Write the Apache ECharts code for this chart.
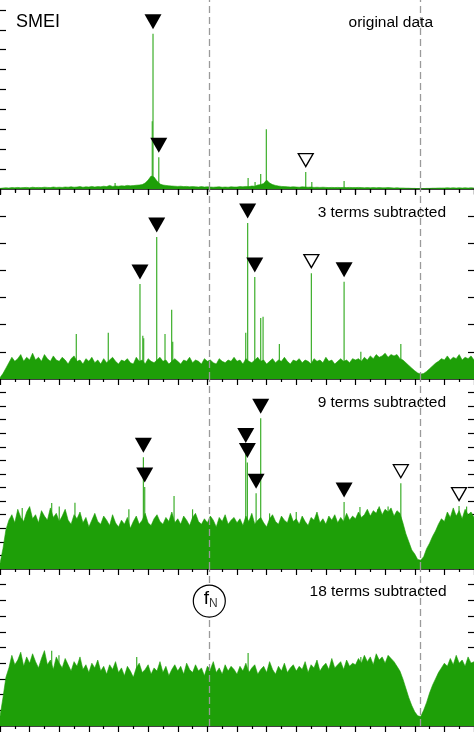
<!DOCTYPE html>
<html>
<head>
<meta charset="utf-8">
<script src="https://cdn.jsdelivr.net/npm/echarts@6/dist/echarts.min.js"></script>
<style>
html,body{margin:0;padding:0;background:#fff;}
#chart{width:474px;height:732px;}
</style>
</head>
<body>
<div id="chart"></div>
<script>
// ---------------- data ----------------
const X_STEP = 0.2;               // spacing of the hand-read spectrum samples (frequency units)
const freqMin = 0, freqMax = 32;  // frequency axis range
const fN = 14.13, fN2 = 28.34;    // Nyquist frequency and its double (dashed lines)
const panelTitles = ["original data", "3 terms subtracted", "9 terms subtracted", "18 terms subtracted"];
const panelYMax = [95, 70, 140, 100];

// continuum (noise) level of each spectrum, one value per X_STEP
const noise1 = [0.3,0.5,0.6,0.5,0.7,0.6,0.8,0.6,0.7,0.8,0.6,0.9,0.7,0.8,0.7,0.9,0.8,0.7,1,0.8,
0.9,0.8,1,0.9,1.1,0.9,1,1.2,0.9,1.1,1,1.3,1,1.2,1.1,1.4,1.2,1.8,1.3,1.5,
1.4,1.6,1.5,1.8,1.6,1.7,1.9,2,2.2,3,4.5,6.5,6,4,2.5,2,1.8,1.6,1.5,1.4,
1.3,1.4,1.2,1.3,1.1,1.2,1.1,1,1.2,1,1.1,1,0.9,1,1.1,0.9,1,0.9,1.1,1,
1,1.2,1.1,1.3,1.2,1.5,1.4,2,2.2,2.8,4.5,3,2.2,1.8,1.5,1.3,1.2,1.1,1,1.1,
1,0.9,1.1,1,0.9,1,0.8,0.9,0.8,0.9,0.8,0.7,0.8,0.7,0.8,0.7,0.8,0.7,0.8,0.7,
0.7,0.8,0.7,0.6,0.7,0.6,0.7,0.6,0.7,0.6,0.6,0.7,0.6,0.5,0.6,0.5,0.5,0.4,0.4,0.3,
0.3,0.2,0.2,0.2,0.3,0.3,0.4,0.4,0.5,0.5,0.5,0.6,0.5,0.6,0.5,0.6,0.5,0.6,0.5,0.6,0.5];

const noise2 = [0.5,2,4,6,8,6.5,7.5,9,6.5,8,7,9.5,7,8,6.5,9,7.5,6.5,8.5,7,
6.5,8,7,5.5,7.5,8.5,6.5,7,5.5,7.5,6.5,8,6,7,5.5,7.5,6,7,8,6.5,
5.5,7,6.5,7.5,6,5.5,8,6.5,7,5.5,7.5,6.5,6,7,8,6.5,7,5.5,6.5,7.5,
6.5,5.5,7,6.5,8,6,7,6.5,5.5,7.5,6.5,7,6,5.5,7.5,6.5,6,7,6.5,8,
6.5,7,5.5,7.5,6.5,6,7,8,6.5,7,5.5,6.5,7.5,6,7,6.5,8,6.5,5.5,7,
6.5,7.5,6,7,6.5,5.5,7.5,6.5,7,6,8,6.5,7,5.5,6.5,7.5,6.5,7,6,7.5,
7,7.5,6.5,8,7,8.5,7.5,9,8,8.5,9.5,8,9,8.5,9,7.5,7,6,5,4,
3,2.2,1.8,2,2.8,3.8,4.8,5.8,6.5,7.5,7,8.5,7,8,7.5,9,7,8,7.5,8.5,7];

const noise3 = [4,15,29,36,40,34,44,38,35,42,46,37,40,34,43,39,36,45,38,41,
35,39,44,36,33,40,37,42,34,38,31,36,41,35,33,39,36,32,40,34,
31,36,33,38,30,35,39,33,36,41,34,32,37,40,35,33,38,35,42,34,
37,33,39,36,32,38,41,35,33,37,34,39,36,31,38,35,40,33,36,38,
34,37,32,39,35,41,33,36,38,34,31,37,40,35,33,39,36,34,41,35,
37,33,39,35,32,38,36,42,34,37,33,39,36,40,34,38,35,41,36,39,
37,42,38,40,44,39,43,41,46,40,44,42,45,39,43,41,34,26,20,14,
11,7,6.5,9,15,19,24,28,33,37,35,42,38,45,39,43,37,44,40,42,38];

const noise4 = [6,18,31,37,45,39,42,47,38,44,40,46,41,37,43,48,39,42,36,44,
40,37,43,39,35,41,38,44,36,39,34,40,37,42,35,38,33,39,36,41,
34,37,32,38,35,31,37,40,34,36,39,33,37,35,41,34,38,32,36,39,
35,38,33,40,36,34,39,35,37,32,38,36,41,34,37,33,39,35,38,36,
33,38,35,40,34,37,39,33,36,38,34,41,36,33,38,35,40,34,37,39,
35,38,36,41,34,39,37,42,35,38,40,36,43,37,39,41,36,42,38,40,
39,43,40,45,41,44,39,46,42,44,40,45,43,41,38,35,30,24,18,13,
9,6.5,6,10,15,21,26,30,34,37,40,38,43,39,45,40,42,38,44,40,41];

// narrow peaks (frequency, height)
const peaks1X = [7.77,10.28,10.33,10.72,16.75,17.22,17.6,17.98,20.64,21.05,23.23];
const peaks1Y = [3,34,78,16,5.5,3.5,7.5,30,8.5,3.5,4];
const peaks2X = [5.15,7.31,9.45,9.64,9.70,10.58,11.14,11.59,11.66,16.59,16.72,17.2,17.6,17.76,18.86,21.02,23.23,24.36,27.06];
const peaks2Y = [16.6,17,35,15.9,15,52.3,16.6,25.5,13.7,17,57.5,37.6,22.5,22.9,12.9,39,35.8,10,12.9];
const peaks3X = [1.5,3.49,4.0,5.06,8.7,9.68,9.77,11.75,13.0,16.59,16.7,17.29,17.6,18.2,20.0,23.23,24.3,25.5,26.2,27.06,30.99,31.5];
const peaks3Y = [45,48.6,46,48.9,44,82.3,60.4,53.8,44,89.5,78.5,55.8,111,41,42,49.4,45.7,44,46,63.2,46.4,46];
const peaks4X = [3.49,3.98,9.23,16.75,24.36];
const peaks4Y = [48,45,44,46.5,44];

// identified frequencies: filled = subtracted terms, open = other marked peaks
const filled1X = [10.33,10.72], filled1Y = [78,16];
const open1X = [20.64], open1Y = [8.5];
const filled2X = [9.45,10.58,16.72,17.2,23.23], filled2Y = [35,52.3,57.5,37.6,35.8];
const open2X = [21.02], open2Y = [39];
const filled3X = [9.68,9.77,17.6,16.59,16.7,17.29,23.23], filled3Y = [82.3,60.4,111,89.5,78.5,55.8,49.4];
const open3X = [27.06,30.99], open3Y = [63.2,46.4];
const fNLabelY = 79.6;

// ---------------- chart ----------------
const FONT = "'Liberation Sans', Arial, Helvetica, sans-serif";
const GREEN = '#1e9f08';
const SPIKE = '#3cae2a';
const gridsPx = [[0,189],[189,190],[379,190],[569,157]];

const noises = [noise1, noise2, noise3, noise4];
const peaksX = [peaks1X, peaks2X, peaks3X, peaks4X];
const peaksY = [peaks1Y, peaks2Y, peaks3Y, peaks4Y];
const filledX = [filled1X, filled2X, filled3X, []];
const filledY = [filled1Y, filled2Y, filled3Y, []];
const openX = [open1X, open2X, open3X, []];
const openY = [open1Y, open2Y, open3Y, []];

const zip = (a, b) => a.map((v, i) => [v, b[i]]);

const grid = [], xAxis = [], yAxis = [], series = [];
gridsPx.forEach((g, p) => {
  grid.push({left: 0, width: 474, top: g[0], height: g[1]});
  xAxis.push({
    type: 'value', gridIndex: p, min: freqMin, max: freqMax, interval: 2, position: 'bottom',
    axisLine: {show: true, onZero: false, lineStyle: {color: '#000', width: 1.5}},
    axisTick: {show: true, inside: false, length: 6, lineStyle: {color: '#000', width: 1.2}},
    minorTick: {show: true, splitNumber: 2, length: 3, lineStyle: {color: '#000', width: 1.2}},
    axisLabel: {show: false}, splitLine: {show: false}, minorSplitLine: {show: false}
  });
  const ticks = [];
  for (let v = 10; v < panelYMax[p]; v += 10) ticks.push(v);
  ['left', 'right'].forEach(pos => {
    yAxis.push({
      type: 'value', gridIndex: p, min: 0, max: panelYMax[p], interval: 10, position: pos,
      axisLine: {show: false},
      axisTick: {show: true, inside: true, length: 6, customValues: ticks, lineStyle: {color: '#000', width: 1.2}},
      axisLabel: {show: false}, splitLine: {show: false}
    });
  });
});
// top axis of the first panel
xAxis.push({
  type: 'value', gridIndex: 0, min: freqMin, max: freqMax, interval: 2, position: 'top',
  axisLine: {show: false},
  axisTick: {show: true, inside: true, length: 5, lineStyle: {color: '#000', width: 1.2}},
  minorTick: {show: true, splitNumber: 2, length: 4, lineStyle: {color: '#000', width: 1.2}},
  axisLabel: {show: false}, splitLine: {show: false}
});

noises.forEach((arr, p) => {
  const yIdx = p * 2;
  series.push({
    type: 'bar', xAxisIndex: p, yAxisIndex: yIdx, barWidth: 1.2, z: 1,
    itemStyle: {color: SPIKE}, data: zip(peaksX[p], peaksY[p]), animation: false, silent: true
  });
  series.push({
    type: 'line', xAxisIndex: p, yAxisIndex: yIdx, showSymbol: false, symbol: 'none', z: 2,
    lineStyle: {color: GREEN, width: 0.6}, areaStyle: {color: GREEN, opacity: 1},
    data: arr.map((v, i) => [+(i * X_STEP).toFixed(3), v]), animation: false, silent: true,
    markLine: {
      silent: true, symbol: ['none', 'none'], label: {show: false}, animation: false,
      lineStyle: {type: [7, 4], color: '#9a9a9a', width: 1.3},
      data: [{xAxis: fN}, {xAxis: fN2}]
    }
  });
  if (filledX[p].length) series.push({
    type: 'scatter', xAxisIndex: p, yAxisIndex: yIdx, symbol: 'triangle', symbolRotate: 180,
    symbolSize: [17, 15], symbolOffset: [0, -12], z: 5,
    itemStyle: {color: '#000', opacity: 1}, data: zip(filledX[p], filledY[p]), animation: false, silent: true
  });
  if (openX[p].length) series.push({
    type: 'scatter', xAxisIndex: p, yAxisIndex: yIdx, symbol: 'triangle', symbolRotate: 180,
    symbolSize: [15, 13], symbolOffset: [0, -12], z: 5,
    itemStyle: {color: '#fff', borderColor: '#000', borderWidth: 1.3, opacity: 1}, data: zip(openX[p], openY[p]), animation: false, silent: true
  });
});
// f_N label circle
series.push({
  type: 'scatter', xAxisIndex: 3, yAxisIndex: 6, symbol: 'circle', symbolSize: 32, z: 6,
  itemStyle: {color: '#fff', borderColor: '#000', borderWidth: 1.2, opacity: 1},
  label: {show: true, position: 'inside', formatter: 'f', fontFamily: FONT, fontSize: 19, color: '#000', offset: [-3, -2]},
  data: [[fN, fNLabelY]], animation: false, silent: true
});
series.push({
  type: 'scatter', xAxisIndex: 3, yAxisIndex: 6, symbolSize: 0, z: 7,
  label: {show: true, position: 'inside', formatter: 'N', fontFamily: FONT, fontSize: 12, color: '#000', offset: [4, 3]},
  data: [[fN, fNLabelY]], animation: false, silent: true
});

const titleY = [22.5, 212.5, 402.5, 591.5];
const titleRight = [433, 446, 446, 446.5];
const graphic = [{
  type: 'text', left: 16, top: 13, z: 10,
  style: {text: 'SMEI', font: "18px " + FONT, fill: '#000'}
}];
panelTitles.forEach((t, p) => {
  graphic.push({
    type: 'text', z: 10, x: titleRight[p], y: titleY[p],
    style: {text: t, font: "15.5px " + FONT, fill: '#000', textAlign: 'right', textVerticalAlign: 'middle'}
  });
});

const chart = echarts.init(document.getElementById('chart'), null, {renderer: 'canvas'});
chart.setOption({
  backgroundColor: '#fff', animation: false,
  grid, xAxis, yAxis, series, graphic
});
</script>
</body>
</html>
